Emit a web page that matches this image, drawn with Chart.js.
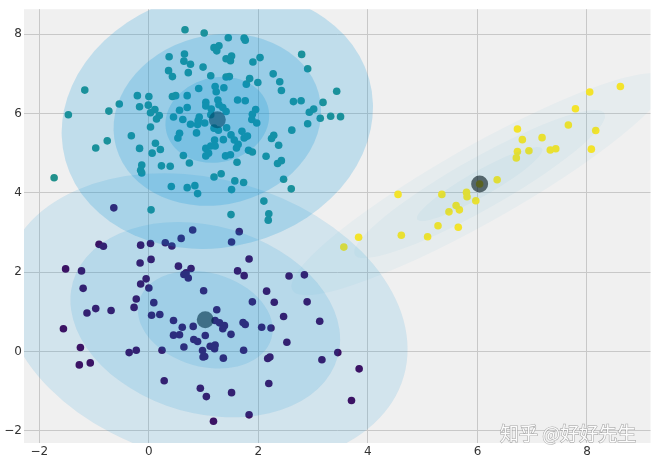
<!DOCTYPE html>
<html>
<head>
<meta charset="utf-8">
<script src="https://cdn.jsdelivr.net/npm/chart.js@4.4.0/dist/chart.umd.min.js"></script>
<style>
  html, body { margin: 0; padding: 0; background: #fff; }
  #wrap { width: 659px; height: 462px; }
</style>
</head>
<body>
<div id="wrap"><canvas id="gmm" width="659" height="462"></canvas></div>
<script>
// GMM fit on three blobs: scatter coloured by cluster, 1/2/3-sigma ellipses on top.

// ── cluster 0 (teal) ──
const tealX = [0.66,1.01,1.45,1.74,1.76,1.19,1.28,1.24,0.37,0.65,0.64,0.76,1.41,1.51,1.49,1.90,2.03,2.79,2.90,0.36,
  0.43,0.72,0.99,1.13,1.41,1.47,1.84,1.78,1.99,2.27,2.39,2.42,3.43,-1.17,0.91,1.21,1.23,1.37,-0.21,0.00,
  0.43,0.49,0.70,1.26,1.62,1.76,2.64,2.78,3.18,-0.54,-0.17,-0.01,0.11,1.04,1.04,1.28,1.35,1.41,1.95,-0.73,
  -1.47,0.03,0.56,0.70,1.14,0.19,0.14,0.45,0.62,1.13,0.92,0.90,0.76,0.89,1.02,1.89,1.88,1.97,2.93,3.01,
  2.90,3.13,3.32,3.50,0.03,1.42,1.19,1.27,-0.32,0.56,0.53,0.87,2.61,1.70,1.80,1.74,1.50,1.36,1.56,1.63,
  1.60,1.20,1.21,1.13,1.04,1.09,1.04,-0.76,-0.97,-0.17,0.12,0.21,0.06,0.63,1.82,1.89,2.24,2.28,2.37,2.14,
  1.40,1.49,1.61,2.42,2.35,0.74,0.23,0.39,-0.13,-0.15,-0.13,1.32,1.19,1.57,1.73,1.51,0.41,0.70,0.84,0.89,
  2.46,2.60,2.10,0.04,1.50,2.19,2.18,-1.73];
const tealY = [8.11,8.03,7.91,7.90,7.85,7.66,7.71,7.58,7.43,7.50,7.32,7.24,7.38,7.45,7.33,7.30,7.41,7.49,7.13,7.08,
  6.93,7.03,7.17,6.95,6.92,6.93,6.88,6.74,6.78,7.00,6.80,6.58,6.56,6.59,6.63,6.68,6.55,6.65,6.45,6.43,
  6.43,6.45,6.45,6.34,6.34,6.32,6.30,6.32,6.28,6.24,6.17,6.21,6.10,6.28,6.19,6.22,6.15,6.05,6.10,6.06,
  5.97,6.02,6.08,6.15,6.11,5.95,5.86,5.91,5.85,5.97,5.91,5.82,5.73,5.72,5.76,5.98,5.85,5.76,6.03,6.11,
  5.74,5.88,5.93,5.92,5.66,5.64,5.63,5.58,5.44,5.50,5.38,5.51,5.58,5.55,5.43,5.38,5.46,5.34,5.33,5.22,
  5.13,5.33,5.18,5.18,5.12,5.00,4.93,5.31,5.13,5.12,5.25,5.09,5.00,4.94,5.07,5.03,5.37,5.45,5.20,4.92,
  4.93,4.96,4.77,4.81,4.74,4.75,4.68,4.67,4.70,4.57,4.50,4.48,4.40,4.30,4.26,4.08,4.16,4.13,4.18,3.98,
  4.34,4.10,3.79,3.57,3.45,3.47,3.31,4.38];

// ── cluster 1 (purple) ──
const purpleX = [-0.64,0.80,1.65,0.59,1.51,-0.91,-0.83,-0.15,0.03,0.30,0.42,0.04,1.83,-0.16,-1.52,-1.23,0.54,0.77,0.64,0.72,
  0.68,1.62,1.74,2.56,2.84,-0.05,-0.15,0.00,-1.20,1.00,2.15,-0.23,0.09,1.89,2.29,2.89,-0.97,-0.69,-1.13,-0.27,
  1.24,0.05,0.20,0.45,2.46,3.12,-1.56,1.21,1.29,1.38,1.35,1.72,1.76,0.61,0.81,2.06,2.23,0.45,0.56,1.03,
  1.50,0.82,0.89,0.64,1.12,1.21,1.20,2.52,-1.25,-0.36,-0.23,0.24,0.98,0.99,1.02,1.73,3.45,1.36,2.17,2.21,
  3.16,-1.27,-1.07,3.84,0.28,2.19,0.94,1.51,1.05,3.70,1.83,1.18];
const purpleY = [3.62,3.06,3.02,2.85,2.76,2.70,2.65,2.68,2.72,2.74,2.66,2.32,2.33,2.23,2.08,2.03,2.15,2.09,1.94,1.85,
  1.98,2.03,1.91,1.90,1.93,1.83,1.70,1.60,1.59,1.53,1.52,1.32,1.23,1.25,1.24,1.25,1.08,1.03,0.97,1.11,
  1.05,0.91,0.93,0.78,0.88,0.76,0.57,0.78,0.72,0.65,0.57,0.73,0.68,0.61,0.63,0.61,0.59,0.41,0.42,0.40,
  0.43,0.30,0.25,0.11,0.13,0.16,0.07,0.23,0.10,-0.03,0.03,0.03,0.02,-0.14,-0.13,0.03,-0.03,-0.17,-0.18,-0.14,
  -0.21,-0.34,-0.29,-0.44,-0.74,-0.81,-0.93,-1.04,-1.14,-1.24,-1.60,-1.76];

// ── cluster 2 (yellow, stretched) ──
const yellowX = [8.61,8.05,7.79,7.66,8.16,6.73,6.82,7.18,6.73,6.71,6.94,7.33,7.43,8.08,6.36,6.04,5.35,4.55,5.80,5.81,
  5.97,5.61,5.67,5.48,5.28,5.65,4.61,5.09,3.83,3.56];
const yellowY = [6.68,6.54,6.12,5.71,5.57,5.61,5.34,5.39,5.04,4.88,5.06,5.08,5.11,5.10,4.33,4.22,3.96,3.96,4.01,3.90,
  3.80,3.68,3.57,3.52,3.17,3.13,2.93,2.89,2.88,2.63];

// ── fitted components (teal, purple, yellow) ──
const meanX = [1.25, 1.03, 6.04];
const meanY = [5.84, 0.80, 4.22];
const sigmaMajor = [1.10, 1.35, 1.45];
const sigmaMinor = [0.93, 1.10, 0.29];
const angleDeg = [72, -45, 38.7];
const weights = [0.55, 0.34, 0.11];

const X_MIN = -2.28, X_MAX = 9.16;
const Y_MIN = -2.31, Y_MAX = 8.63;

const ELLIPSE_RGB = "0,143,213";
const FONT = "'DejaVu Sans', sans-serif";

function toPoints(xs, ys) {
  return xs.map((x, i) => ({ x, y: ys[i] }));
}

function minusTick(v) {
  return String(v).replace("-", "\u2212");
}

// Ellipses are drawn over the points, as in the original figure.
const ellipsePlugin = {
  id: "gmmEllipses",
  afterDatasetsDraw(chart) {
    const { ctx, chartArea, scales } = chart;
    const kx = scales.x.getPixelForValue(1) - scales.x.getPixelForValue(0);
    const ky = scales.y.getPixelForValue(0) - scales.y.getPixelForValue(1);
    const wMax = Math.max(...weights);
    ctx.save();
    ctx.beginPath();
    ctx.rect(chartArea.left, chartArea.top, chartArea.right - chartArea.left, chartArea.bottom - chartArea.top);
    ctx.clip();
    for (let k = 0; k < meanX.length; k++) {
      const cx = scales.x.getPixelForValue(meanX[k]);
      const cy = scales.y.getPixelForValue(meanY[k]);
      ctx.fillStyle = `rgba(${ELLIPSE_RGB},${(0.2 * weights[k] / wMax).toFixed(3)})`;
      for (let nsig = 1; nsig <= 3; nsig++) {
        ctx.save();
        ctx.translate(cx, cy);
        ctx.scale(kx, -ky);
        ctx.beginPath();
        ctx.ellipse(0, 0, nsig * sigmaMajor[k], nsig * sigmaMinor[k], angleDeg[k] * Math.PI / 180, 0, 2 * Math.PI);
        ctx.restore();
        ctx.fill();
      }
    }
    ctx.restore();
  },
};

const backgroundPlugin = {
  id: "bg",
  beforeDraw(chart) {
    const { ctx, chartArea, width, height } = chart;
    ctx.save();
    ctx.fillStyle = "#ffffff";
    ctx.fillRect(0, 0, width, height);
    ctx.fillStyle = "#f0f0f0";
    ctx.fillRect(chartArea.left, chartArea.top, chartArea.right - chartArea.left, chartArea.bottom - chartArea.top);
    ctx.restore();
  },
  afterDraw(chart) {
    const { ctx } = chart;
    ctx.save();
    ctx.font = "19px 'Noto Sans CJK SC', sans-serif";
    ctx.textBaseline = "alphabetic";
    ctx.lineWidth = 1.2;
    ctx.strokeStyle = "rgba(110,110,110,0.55)";
    ctx.strokeText("知乎 @好好先生", 500, 441);
    ctx.fillStyle = "rgba(255,255,255,0.95)";
    ctx.fillText("知乎 @好好先生", 500, 441);
    ctx.restore();
  },
};

const tickFont = { family: FONT, size: 12 };

new Chart(document.getElementById("gmm"), {
  type: "scatter",
  data: {
    datasets: [
      {
        label: "means",
        data: toPoints(meanX, meanY),
        backgroundColor: "rgba(0,0,0,0.6)",
        pointRadius: 8.5,
        borderWidth: 0,
      },
      { label: "cluster 0", data: toPoints(tealX, tealY), backgroundColor: "#21918c", pointRadius: 3.8, borderWidth: 0 },
      { label: "cluster 1", data: toPoints(purpleX, purpleY), backgroundColor: "#440154", pointRadius: 3.8, borderWidth: 0 },
      { label: "cluster 2", data: toPoints(yellowX, yellowY), backgroundColor: "#fde725", pointRadius: 3.8, borderWidth: 0 },
    ],
  },
  options: {
    responsive: false,
    animation: false,
    events: [],
    layout: { padding: { left: 0, top: 5, right: 6, bottom: 0 } },
    plugins: { legend: { display: false }, tooltip: { enabled: false } },
    scales: {
      x: {
        type: "linear",
        min: X_MIN,
        max: X_MAX,
        afterFit(s) { s.height = 19; },
        border: { display: false },
        grid: { color: "#c8c8c8", lineWidth: 1, drawTicks: false },
        ticks: { stepSize: 2, includeBounds: false, padding: 2, color: "#333", font: tickFont, callback: minusTick },
      },
      y: {
        type: "linear",
        min: Y_MIN,
        max: Y_MAX,
        afterFit(s) { s.width = 24; },
        border: { display: false },
        grid: { color: "#c8c8c8", lineWidth: 1, drawTicks: false },
        ticks: { stepSize: 2, includeBounds: false, padding: 2, color: "#333", font: tickFont, callback: minusTick },
      },
    },
  },
  plugins: [backgroundPlugin, ellipsePlugin],
});
</script>
</body>
</html>
